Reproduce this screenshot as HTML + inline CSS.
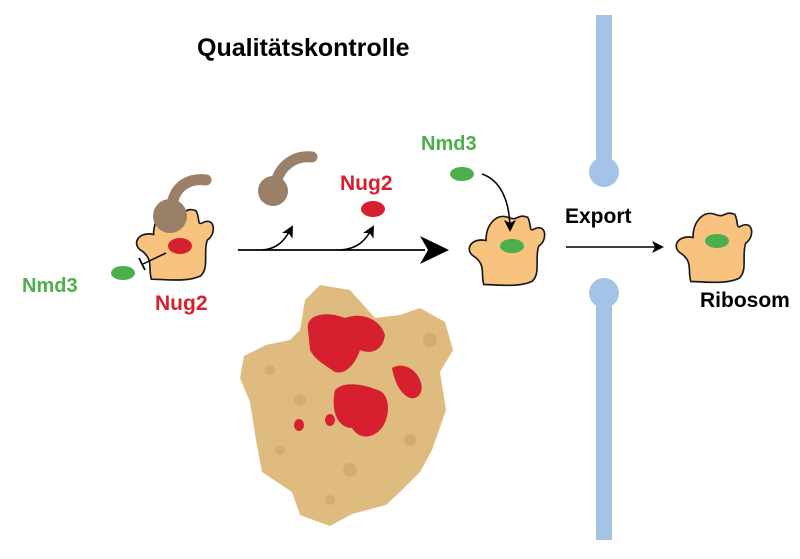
<!DOCTYPE html>
<html><head><meta charset="utf-8"><style>
html,body{margin:0;padding:0;background:#fff;}
svg{display:block;font-family:"Liberation Sans",sans-serif;font-weight:bold;}
</style></head><body>
<svg width="800" height="559" viewBox="0 0 800 559" xmlns="http://www.w3.org/2000/svg">
<defs>
<path id="blob" d="M -30,10 C -40,5 -35,-8 -20,-5 C -20,-20 -10,-30 0,-26 C 10,-22 8,-30 18,-26 C 22,-18 18,-12 25,-16 C 35,-20 36,-5 28,0 C 24,10 30,25 22,32 C 10,38 -10,35 -22,35 C -25,25 -20,18 -30,10 Z" fill="#f8c27f" stroke="#1a1a1a" stroke-width="1.5"/>
<marker id="ah" markerWidth="12" markerHeight="12" refX="10" refY="6" orient="auto" markerUnits="userSpaceOnUse"><path d="M0,0 L12,6 L0,12 L3,6 Z" fill="#000"/></marker>
</defs>
<text x="197" y="56" font-size="25" fill="#000">Qualitätskontrolle</text>
<rect x="596" y="15" width="16" height="150" fill="#a5c3e6"/>
<circle cx="604" cy="172" r="15" fill="#a5c3e6"/>
<circle cx="604" cy="293" r="15" fill="#a5c3e6"/>
<rect x="596" y="295" width="16" height="245" fill="#a5c3e6"/>
<g transform="translate(176,240) scale(1.12)"><use href="#blob"/></g>
<path d="M172,205 C175,185 190,178 206,180" stroke="#9a7f69" stroke-width="11" fill="none" stroke-linecap="round"/>
<circle cx="170" cy="216" r="17" fill="#9a7f69"/>
<ellipse cx="180" cy="246" rx="12" ry="8" fill="#d7202f"/>
<line x1="166" y1="253" x2="143" y2="264" stroke="#000" stroke-width="1.5"/>
<line x1="139" y1="258" x2="145" y2="270" stroke="#000" stroke-width="1.8"/>
<ellipse cx="123" cy="273" rx="12" ry="7" fill="#4cae4c"/>
<text x="22" y="292" font-size="20" fill="#4cae4c">Nmd3</text>
<text x="155" y="310" font-size="21" fill="#d7202f">Nug2</text>
<line x1="238" y1="250" x2="425" y2="250" stroke="#000" stroke-width="1.8"/>
<path d="M420,236 L449,250 L420,264 L428,250 Z" fill="#000"/>
<path d="M262,250 C278,249 285,240 292,227" stroke="#000" stroke-width="1.5" fill="none" marker-end="url(#ah)"/>
<path d="M340,250 C358,249 366,240 373,227" stroke="#000" stroke-width="1.5" fill="none" marker-end="url(#ah)"/>
<path d="M275,185 C280,165 295,155 312,157" stroke="#9a7f69" stroke-width="11" fill="none" stroke-linecap="round"/>
<circle cx="273" cy="191" r="15" fill="#9a7f69"/>
<text x="340" y="190" font-size="21" fill="#d7202f">Nug2</text>
<ellipse cx="373" cy="209" rx="12" ry="8" fill="#d7202f"/>
<g transform="translate(508,246) scale(1.1)"><use href="#blob"/></g>
<ellipse cx="512" cy="246" rx="12" ry="7" fill="#4cae4c"/>
<text x="421" y="150" font-size="20" fill="#4cae4c">Nmd3</text>
<ellipse cx="462" cy="174" rx="12" ry="7" fill="#4cae4c"/>
<path d="M482,174 C500,180 510,200 510,230" stroke="#000" stroke-width="1.5" fill="none" marker-end="url(#ah)"/>
<text x="565" y="223" font-size="21" fill="#000">Export</text>
<line x1="566" y1="247" x2="662" y2="247" stroke="#000" stroke-width="1.6" marker-end="url(#ah)"/>
<g transform="translate(715,243) scale(1.1)"><use href="#blob"/></g>
<ellipse cx="717" cy="241" rx="12" ry="7" fill="#4cae4c"/>
<text x="700" y="307" font-size="21" fill="#000">Ribosom</text>
<path d="M305,300 L320,285 L350,290 L375,318 L400,315 L420,308 L445,322 L453,350 L440,372 L446,410 L432,450 L420,472 L402,490 L386,505 L352,514 L330,526 L300,515 L292,492 L262,472 L256,440 L250,402 L240,378 L244,356 L266,345 L290,340 L300,330 Z" fill="#dfbb80"/>
<g fill="#c9a468" opacity="0.6">
<circle cx="300" cy="400" r="6"/><circle cx="350" cy="470" r="7"/><circle cx="410" cy="440" r="6"/><circle cx="280" cy="450" r="5"/><circle cx="430" cy="340" r="7"/><circle cx="330" cy="500" r="5"/><circle cx="270" cy="370" r="5"/>
</g>
<path d="M308,330 C305,315 325,310 345,318 C360,312 380,318 385,335 C383,350 372,355 360,350 C355,365 345,375 335,372 C325,365 315,360 310,350 Z" fill="#d7202f"/>
<path d="M335,390 C345,380 365,385 378,390 C392,395 390,420 380,430 C370,440 358,438 352,428 C340,428 330,415 335,390 Z" fill="#d7202f"/>
<path d="M392,368 C402,362 415,368 420,380 C425,392 418,400 410,398 C402,395 395,385 392,368 Z" fill="#d7202f"/>
<ellipse cx="299" cy="425" rx="5" ry="6" fill="#d7202f"/>
<ellipse cx="330" cy="420" rx="5" ry="6" fill="#d7202f"/>
</svg>
</body></html>
